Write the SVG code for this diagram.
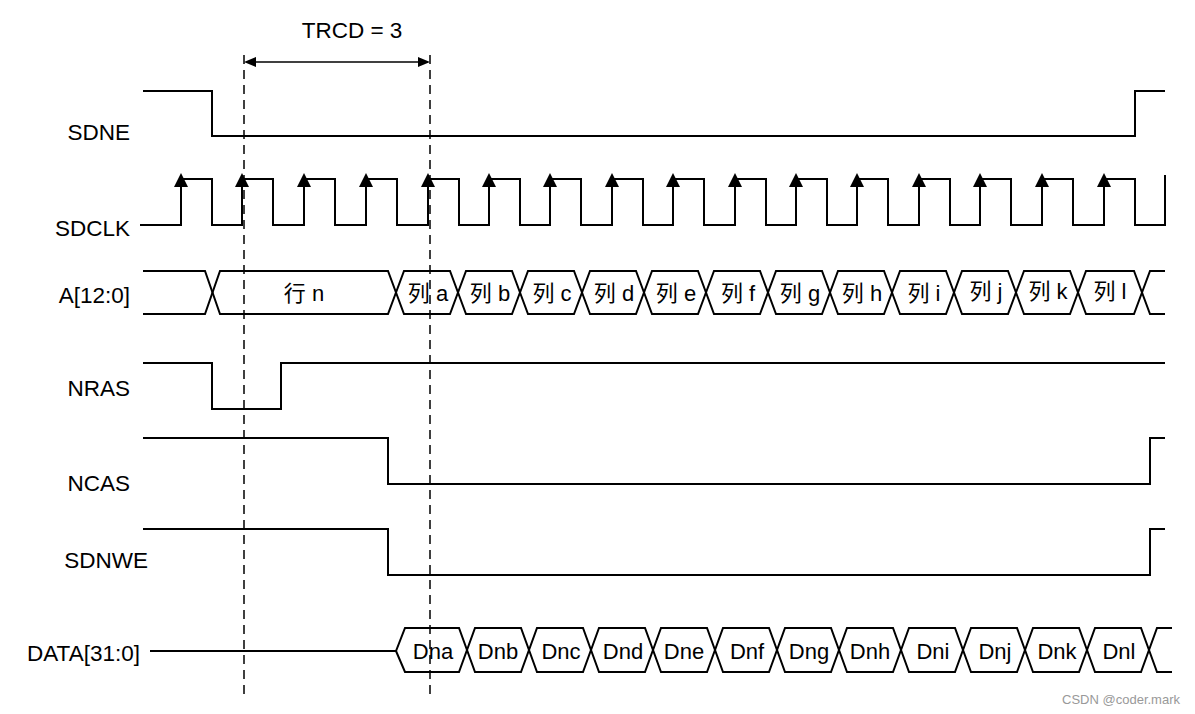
<svg xmlns="http://www.w3.org/2000/svg" width="1195" height="714" viewBox="0 0 1195 714">
<style>
.s{fill:none;stroke:#000;stroke-width:2}
.d{fill:none;stroke:#000;stroke-width:1.5;stroke-dasharray:9,6}
.l{font-family:"Liberation Sans",Arial,sans-serif;font-size:22.5px;fill:#000}
.c{font-family:"Liberation Sans","Noto Sans CJK SC",sans-serif;font-size:22px;fill:#000;text-anchor:middle}
</style>
<defs>
<path id="up" d="M-7,187L0,173L7,187z" fill="#000"/>
</defs>
<rect width="1195" height="714" fill="#fff"/>
<g id="labels">
<text class="l" x="130" y="140" text-anchor="end">SDNE</text>
<text class="l" x="130" y="236" text-anchor="end">SDCLK</text>
<text class="l" x="130" y="303" text-anchor="end">A[12:0]</text>
<text class="l" x="130" y="396" text-anchor="end">NRAS</text>
<text class="l" x="130" y="491" text-anchor="end">NCAS</text>
<text class="l" x="148" y="568" text-anchor="end">SDNWE</text>
<text class="l" x="140" y="661" text-anchor="end">DATA[31:0]</text>
</g>
<g id="trcd">
<line class="d" x1="244" y1="55" x2="244" y2="700"/>
<line class="d" x1="430" y1="55" x2="430" y2="700"/>
<line x1="250" y1="62" x2="424" y2="62" stroke="#000" stroke-width="1.5"/>
<path d="M244,62L256,57L256,67z M430,62L418,57L418,67z" fill="#000"/>
<text class="l" x="352" y="38" text-anchor="middle">TRCD = 3</text>
</g>
<g id="sdne"><path class="s" d="M143,91H212V136H1135V91H1165"/></g>
<g id="sdclk">
<path class="s" d="M140,225H181V179H212V225H242V179H273V225H304V179H335V225H366V179H397V225H428V179H459V225H489V179H520V225H550V179H581V225H612V179H643V225H673V179H704V225H735V179H766V225H796V179H827V225H857V179H888V225H919V179H950V225H980V179H1011V225H1042V179H1073V225H1104V179H1135V225H1165V175"/>
<use href="#up" x="181"/><use href="#up" x="242"/><use href="#up" x="304"/><use href="#up" x="366"/><use href="#up" x="428"/><use href="#up" x="489"/><use href="#up" x="550"/><use href="#up" x="612"/><use href="#up" x="673"/><use href="#up" x="735"/><use href="#up" x="796"/><use href="#up" x="857"/><use href="#up" x="919"/><use href="#up" x="980"/><use href="#up" x="1042"/><use href="#up" x="1104"/>
</g>
<g id="addr">
<path class="s" d="M143,271H205L220,314H388L404,271H450L466,314H512L528,271H574L590,314H636L652,271H698L714,314H760L776,271H822L838,314H884L900,271H946L962,314H1008L1024,271H1070L1086,314H1134L1150,271H1165"/>
<path class="s" d="M143,314H205L220,271H388L404,314H450L466,271H512L528,314H574L590,271H636L652,314H698L714,271H760L776,314H822L838,271H884L900,314H946L962,271H1008L1024,314H1070L1086,271H1134L1150,314H1165"/>
<text class="c" x="304" y="301">行 n</text>
<text class="c" x="428" y="301">列 a</text>
<text class="c" x="490" y="301">列 b</text>
<text class="c" x="552" y="301">列 c</text>
<text class="c" x="614" y="301">列 d</text>
<text class="c" x="676" y="301">列 e</text>
<text class="c" x="738" y="301">列 f</text>
<text class="c" x="800" y="301">列 g</text>
<text class="c" x="862" y="301">列 h</text>
<text class="c" x="924" y="301">列 i</text>
<text class="c" x="986" y="299">列 j</text>
<text class="c" x="1048" y="299">列 k</text>
<text class="c" x="1110" y="299">列 l</text>
</g>
<g id="nras"><path class="s" d="M143,363H212V409H281V363H1165"/></g>
<g id="ncas"><path class="s" d="M143,438H388V484H1150V438H1165"/></g>
<g id="sdnwe"><path class="s" d="M143,529H388V575H1150V529H1165"/></g>
<g id="data">
<path class="s" d="M150,651H396L405,628H459L475,672H521L537,628H583L599,672H645L661,628H707L723,672H769L785,628H831L847,672H893L909,628H955L971,672H1017L1033,628H1079L1095,672H1141L1157,628H1172"/>
<path class="s" d="M396,651L405,672H459L475,628H521L537,672H583L599,628H645L661,672H707L723,628H769L785,672H831L847,628H893L909,672H955L971,628H1017L1033,672H1079L1095,628H1141L1157,672H1172"/>
<text class="c" x="433" y="659">Dna</text>
<text class="c" x="498" y="659">Dnb</text>
<text class="c" x="561" y="659">Dnc</text>
<text class="c" x="623" y="659">Dnd</text>
<text class="c" x="684" y="659">Dne</text>
<text class="c" x="747" y="659">Dnf</text>
<text class="c" x="809" y="659">Dng</text>
<text class="c" x="870" y="659">Dnh</text>
<text class="c" x="933" y="659">Dni</text>
<text class="c" x="995" y="659">Dnj</text>
<text class="c" x="1057" y="659">Dnk</text>
<text class="c" x="1119" y="659">Dnl</text>
</g>
<text x="1180" y="704" text-anchor="end" font-family="Liberation Sans,sans-serif" font-size="13" fill="#999">CSDN @coder.mark</text>
</svg>
